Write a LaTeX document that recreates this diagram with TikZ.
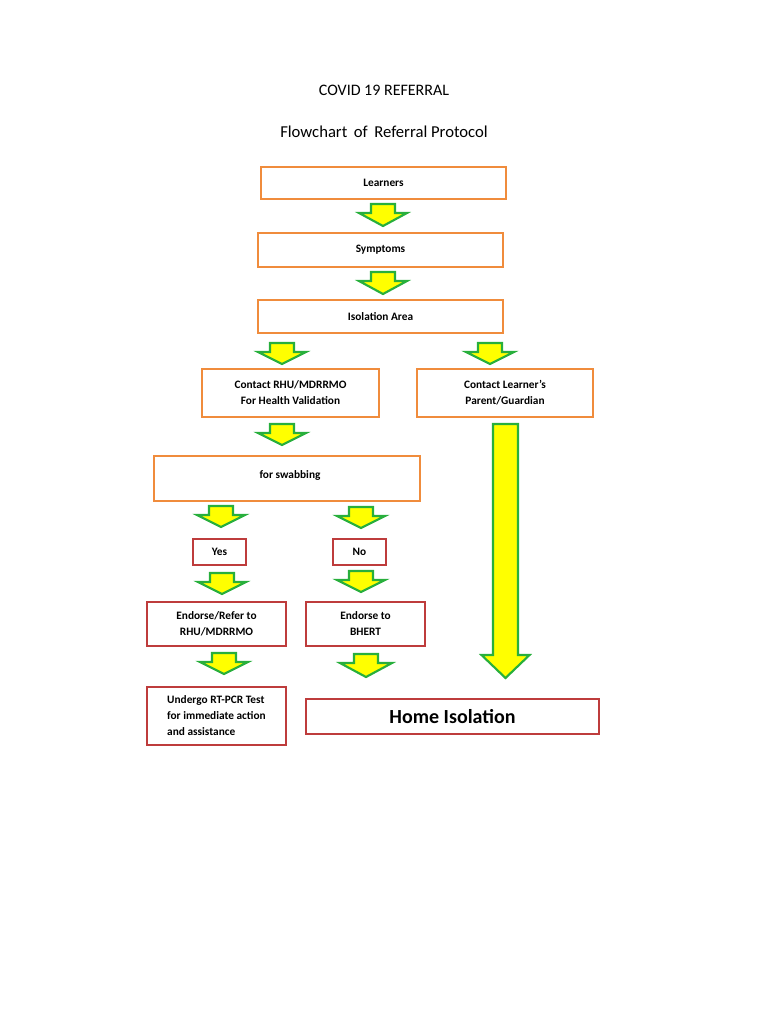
\documentclass[tikz,border=0pt]{standalone}
\usepackage{fontspec}
\setmainfont{Carlito}
\definecolor{orng}{RGB}{240,140,60}
\definecolor{rd}{RGB}{190,60,60}
\definecolor{grn}{RGB}{40,175,60}
\definecolor{yel}{RGB}{255,255,0}
\begin{document}
\begin{tikzpicture}[x=0.75pt,y=-0.75pt,
  ob/.style={draw=orng,line width=1.4pt,fill=white,font=\bfseries\fontsize{8.5}{12}\selectfont,align=center,inner sep=0pt},
  rb/.style={draw=rd,line width=1.4pt,fill=white,font=\bfseries\fontsize{8.5}{12}\selectfont,align=center,inner sep=0pt},
  pics/barrow/.style args={#1/#2/#3/#4}{code={
    \draw[grn,line width=1.6pt,fill=yel,line join=miter]
      (-#3,0) -- (#3,0) -- (#3,#1) -- (#2,#1) -- (0,#4) -- (-#2,#1) -- (-#3,#1) -- cycle;}}]
\useasboundingbox (0,0) rectangle (768,1024);
\node[font=\fontsize{12}{14}\selectfont] (t1) at (384,90) {COVID 19 REFERRAL};
\node[font=\fontsize{12.5}{14}\selectfont] (t2) at (384,132) {Flowchart\, of\, Referral Protocol};
% boxes
\node[ob,minimum width=245*0.75pt,minimum height=32*0.75pt] (lr) at (383.5,183) {Learners};
\node[ob,minimum width=245*0.75pt,minimum height=34*0.75pt] (sy) at (380.5,250) {Symptoms};
\node[ob,minimum width=245*0.75pt,minimum height=33*0.75pt] (ia) at (380.5,316.5) {Isolation Area};
\node[ob,minimum width=177*0.75pt,minimum height=48*0.75pt] (cr) at (290.5,393) {Contact RHU/MDRRMO\\For Health Validation};
\node[ob,minimum width=176*0.75pt,minimum height=48*0.75pt] (cl) at (505,393) {Contact Learner's\\Parent/Guardian};
\node[ob,minimum width=266*0.75pt,minimum height=45*0.75pt,anchor=north west] (sw) at (153,455) {};
\node[font=\bfseries\fontsize{8.5}{12}\selectfont] (swt) at (290,475) {for swabbing};
\node[rb,minimum width=53*0.75pt,minimum height=26*0.75pt] (ys) at (219.5,552) {Yes};
\node[rb,minimum width=53*0.75pt,minimum height=26*0.75pt] (no) at (359.5,552) {No};
\node[rb,minimum width=139*0.75pt,minimum height=44*0.75pt] (er) at (216.5,624) {Endorse/Refer to\\RHU/MDRRMO};
\node[rb,minimum width=119*0.75pt,minimum height=44*0.75pt] (eb) at (365.5,624) {Endorse to\\BHERT};
\node[rb,minimum width=139*0.75pt,minimum height=58*0.75pt,align=left] (ug) at (216.5,716) {Undergo RT-PCR Test\\for immediate action\\and assistance};
\node[rb,minimum width=293*0.75pt,minimum height=35*0.75pt,font=\bfseries\fontsize{15}{18}\selectfont] (hi) at (452.5,716.5) {Home Isolation};
% block arrows: shaft len / head halfwidth / shaft halfwidth / tip
\pic at (383,204) {barrow=9/24/12/22};
\pic at (383,272) {barrow=9/24/12/22};
\pic at (282,343) {barrow=9/24/12/21};
\pic at (490,343) {barrow=9/24/12/21};
\pic at (282,424) {barrow=9/24/12/21};
\pic at (221,506) {barrow=9/24/12/21};
\pic at (361,507) {barrow=9/24/12/21};
\pic at (222,573) {barrow=9/24/12/21};
\pic at (361,571) {barrow=9/24/12/21};
\pic at (224,653) {barrow=9/24/12/21};
\pic at (366,654) {barrow=9/26/12/23};
\pic at (505.5,424) {barrow=231/24/12.5/254};
\end{tikzpicture}
\end{document}
